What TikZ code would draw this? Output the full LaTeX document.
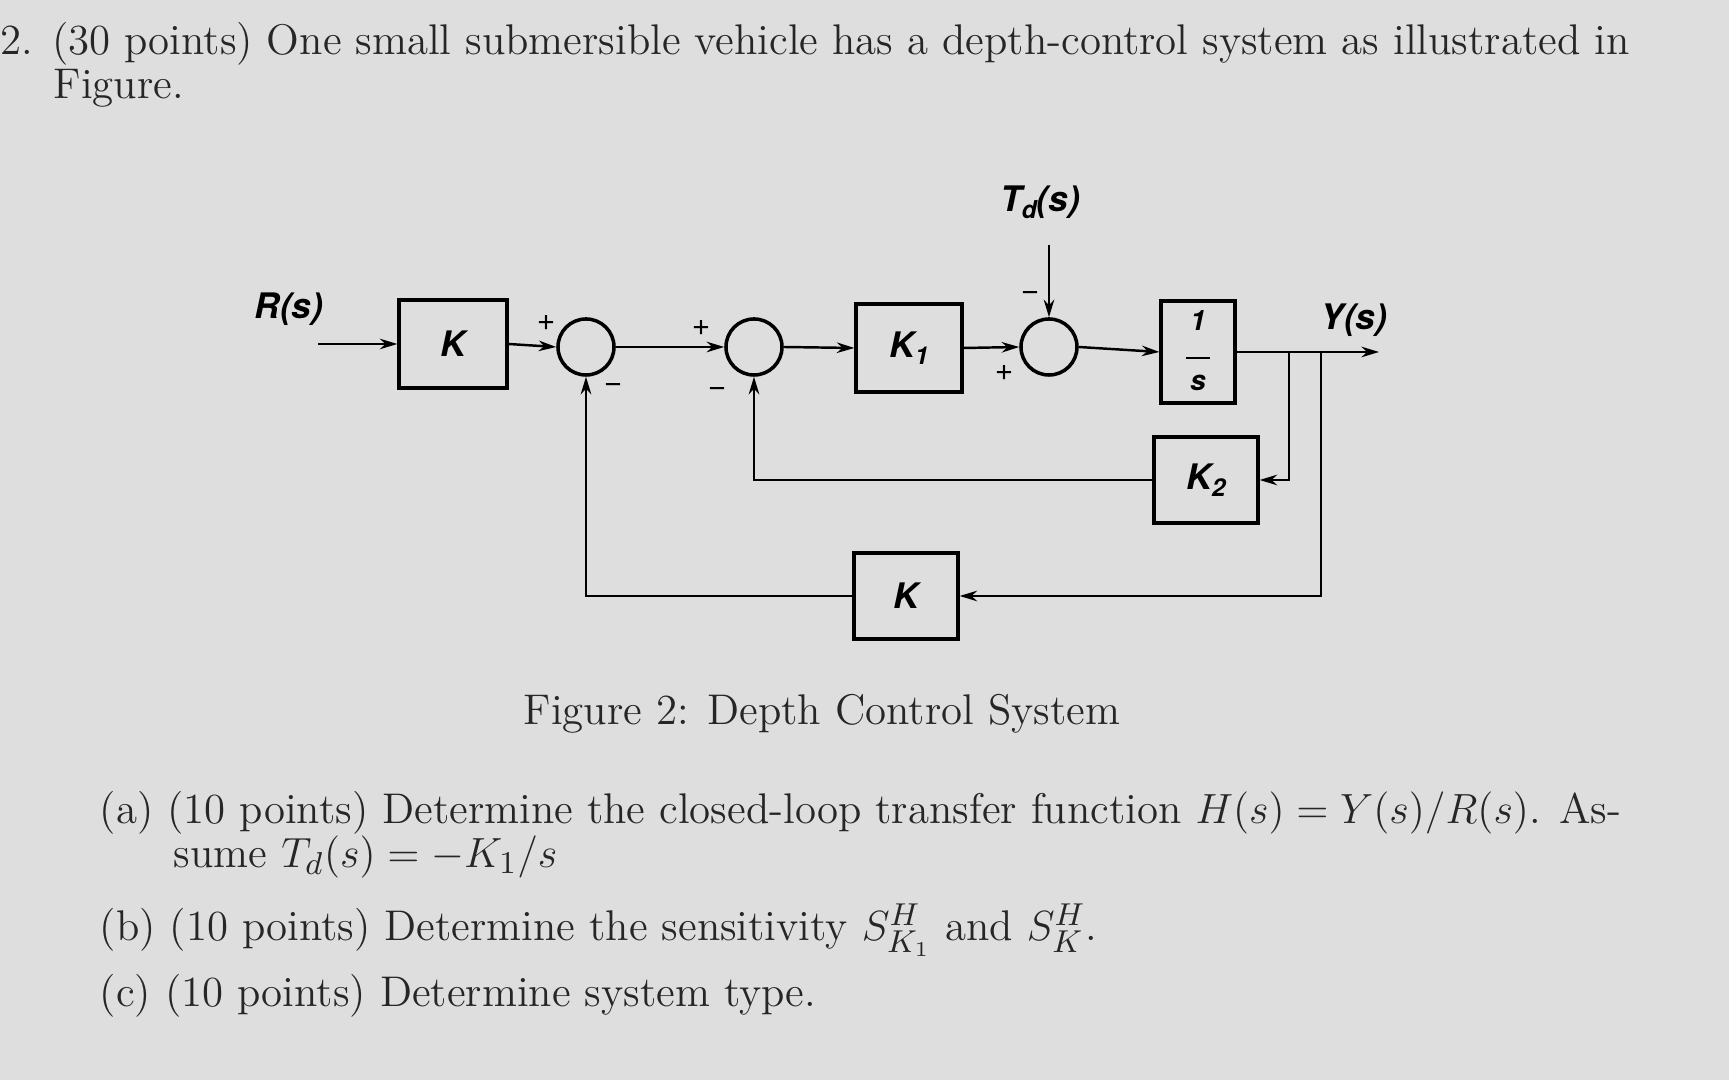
\documentclass[tikz,border=0pt]{standalone}
\usepackage{fontspec}
\newfontfamily\hv{TeX Gyre Heros}
\usetikzlibrary{arrows.meta}
\begin{document}
\begin{tikzpicture}[x=0.01cm,y=0.01cm,
  blk/.style={draw,line width=0.9pt,font=\hv\bfseries\itshape\fontsize{10}{12}\selectfont,inner sep=0pt},
  sumc/.style={draw,circle,line width=1pt,minimum size=0.56cm,inner sep=0pt},
  sig/.style={font=\hv\bfseries\itshape\fontsize{10}{12}\selectfont},
  sg/.style={font=\hv\fontsize{9}{10}\selectfont},
  ln/.style={line width=0.7pt},
  ar/.style={ln,-{Stealth[length=5pt,width=3pt]}},
  txt/.style={anchor=west,font=\fontsize{12.2}{14}\selectfont,inner sep=0pt,text=black!85}]
\fill[black!13] (0,0) rectangle (1729,-1080);
\useasboundingbox (0,0) rectangle (1729,-1080);
\node[txt] (t1) at (0,-44) {2. (30 points) One small submersible vehicle has a depth-control system as illustrated in};
\node[txt] (t2) at (53,-88) {Figure.};
\node[blk,minimum width=1.08cm,minimum height=0.88cm] (K) at (453,-344) {K};
\node[sumc] (s1) at (586,-347) {};
\node[sumc] (s2) at (754,-347) {};
\node[blk,minimum width=1.06cm,minimum height=0.88cm] (K1) at (909,-348) {K\raisebox{-2pt}{\fontsize{7}{8}\selectfont 1}};
\node[sumc] (s3) at (1049,-347) {};
\node[blk,minimum width=0.74cm,minimum height=0.86cm] (I) at (1198,-352) {\begin{tabular}{@{}c@{}}\fontsize{8}{9}\selectfont 1\\[-4pt]\rule{7pt}{0.6pt}\\[-3pt]\fontsize{8}{9}\selectfont s\end{tabular}};
\node[blk,minimum width=1.04cm,minimum height=0.86cm] (K2) at (1206,-480) {K\raisebox{-2pt}{\fontsize{7}{8}\selectfont 2}};
\node[blk,minimum width=1.04cm,minimum height=0.86cm] (Kf) at (906,-596) {K};
\node[sig] (Rs) at (289,-309) {R(s)};
\node[sig] (Ys) at (1354,-320) {Y(s)};
\node[sig] (Td) at (1040,-202) {T\raisebox{-2pt}{\fontsize{7}{8}\selectfont d}(s)};
\coordinate (rin) at (318,-344);
\coordinate (tdt) at (1049,-245);
\coordinate (yout) at (1379,-352);
\coordinate (b1) at (1289,-352);
\coordinate (b2) at (1321,-352);
\draw[ar] (rin) -- (K.west);
\draw[ar] (K.east) -- (s1.west);
\draw[ar] (s1.east) -- (s2.west);
\draw[ar] (s2.east) -- (K1.west);
\draw[ar] (K1.east) -- (s3.west);
\draw[ar] (tdt) -- (s3.north);
\draw[ar] (s3.east) -- (I.west);
\draw[ar] (I.east) -- (yout);
\draw[ar] (b1) |- (K2.east);
\draw[ar] (b2) |- (Kf.east);
\draw[ar] (K2.west) -| (s2.south);
\draw[ar] (Kf.west) -| (s1.south);
\node[sg] at (546,-323) {+};
\node[sg] at (613,-388) {\textminus};
\node[sg] at (701,-328) {+};
\node[sg] at (717,-392) {\textminus};
\node[sg] at (1030,-296) {\textminus};
\node[sg] at (1004,-373) {+};
\node[font=\fontsize{12.2}{14}\selectfont,text=black!85] (cap) at (822,-714) {Figure 2: Depth Control System};
\node[txt] (a) at (99,-813) {(a) (10 points) Determine the closed-loop transfer function $H(s)=Y(s)/R(s)$. As-};
\node[txt] (a2) at (173,-857) {sume $T_d(s)=-K_1/s$};
\node[txt] (b) at (99,-930) {(b) (10 points) Determine the sensitivity $S^H_{K_1}$ and $S^H_K$.};
\node[txt] (c) at (99,-996) {(c) (10 points) Determine system type.};
\end{tikzpicture}
\end{document}
